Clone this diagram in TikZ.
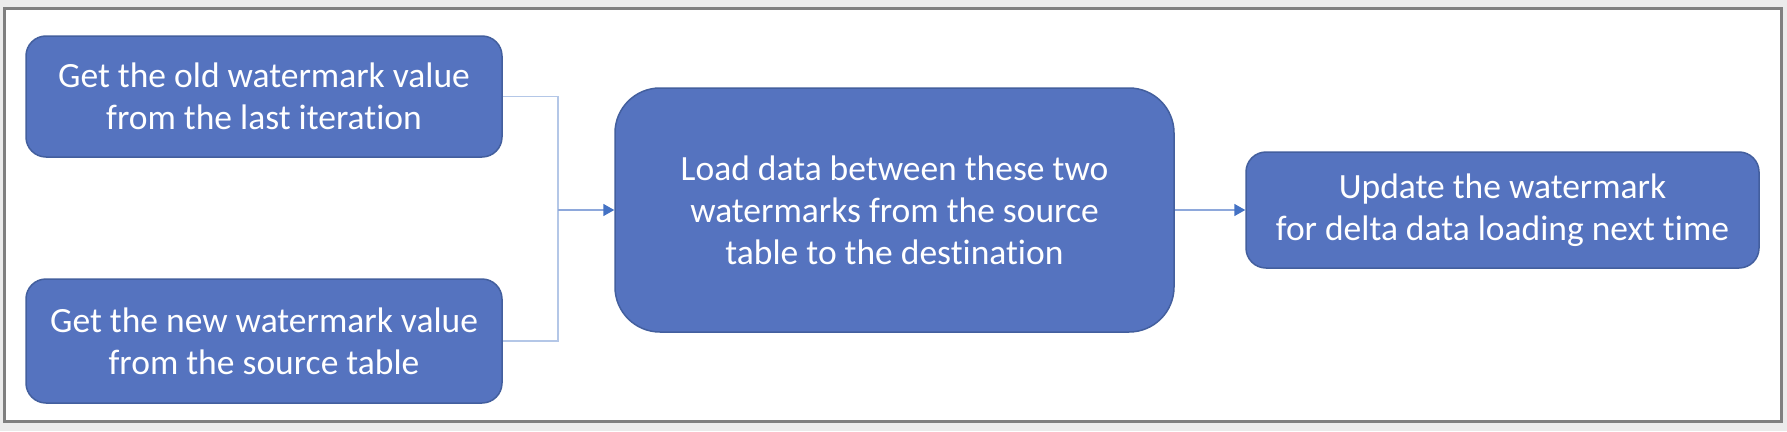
\documentclass[tikz,border=0pt]{standalone}
\usepackage{fontspec}
\setmainfont{Carlito}[RawFeature={-liga}]
\usetikzlibrary{arrows.meta}
\definecolor{boxfill}{HTML}{5573BF}
\definecolor{boxline}{HTML}{435F9E}
\definecolor{lightln}{HTML}{B4C7E7}
\definecolor{arrln}{HTML}{8EA8DB}
\definecolor{arrhead}{HTML}{4472C4}
\definecolor{framegray}{HTML}{7F7F7F}
\definecolor{bggray}{HTML}{EBEBEB}
\tikzset{
  stepbox/.style={draw=boxline, line width=1.5pt, fill=boxfill, text=white,
    align=center, inner sep=0pt, rounded corners=20pt,
    font=\fontsize{35.5}{42}\selectfont},
  elbow/.style={draw=lightln, line width=1.6pt},
  arrowln/.style={draw=arrln, line width=1.6pt,
    -{Triangle[length=11pt,width=12pt,color=arrhead]}}
}
\begin{document}
\begin{tikzpicture}[x=1pt,y=-1pt]
\useasboundingbox (0,0) rectangle (1787,431);
\fill[bggray] (0,0) rectangle (1787,431);
\draw[framegray, line width=3pt, fill=white] (4.5,8) rectangle (1781.5,421.5);

\node[stepbox, minimum width=476pt, minimum height=121pt] (A) at (264,96.5)
  {Get the old watermark value\\from the last iteration};
\node[stepbox, minimum width=476pt, minimum height=124pt] (B) at (264,341)
  {Get the new watermark value\\from the source table};
\node[stepbox, rounded corners=45pt, minimum width=559pt, minimum height=244pt] (C) at (894.5,210)
  {Load data between these two\\watermarks from the source\\table to the destination};
\node[stepbox, minimum width=513pt, minimum height=116pt] (D) at (1502.5,210)
  {Update the watermark\\for delta data loading next time};

\coordinate (j) at (558,210);
\draw[elbow] (A.east) -| (j);
\draw[elbow] (B.east) -| (j);
\draw[arrowln] (j) -- (C.west);
\draw[arrowln] (C.east) -- (D.west);
\end{tikzpicture}
\end{document}
